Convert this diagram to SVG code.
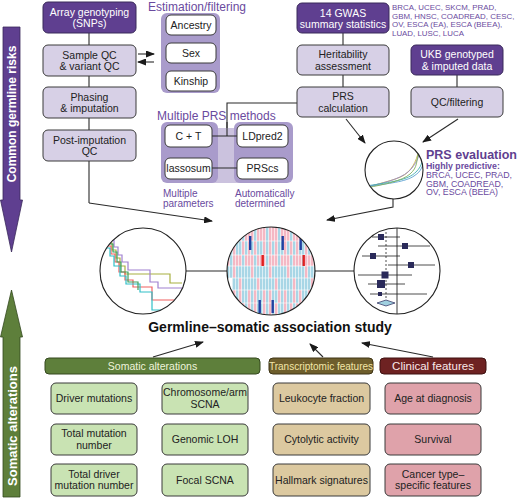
<svg xmlns="http://www.w3.org/2000/svg" width="520" height="498" viewBox="0 0 520 498">
<style>
text{font-family:"Liberation Sans",Arial,sans-serif;}
.t{font-size:10.5px;fill:#222;text-anchor:middle;}
.tw{font-size:10.5px;fill:#fff;text-anchor:middle;}
.dk{fill:#5f3f90;stroke:#3a2a5a;stroke-width:1;}
.lt{fill:#d7d0e6;stroke:#3a3a3a;stroke-width:1;}
.wb{fill:#fff;stroke:#3a3a3a;stroke-width:1;}
.pp{fill:#a99bcb;}
.pl{font-size:10px;fill:#6a4a9e;}
.ln{stroke:#2a2a2a;stroke-width:1.1;fill:none;}
.ar{stroke:#2a2a2a;stroke-width:1.1;fill:none;marker-end:url(#ah);}
.gb{fill:#c9e3b3;stroke:#3a3a3a;stroke-width:1;}
.tb{fill:#dcc9a0;stroke:#3a3a3a;stroke-width:1;}
.rb{fill:#dfa2aa;stroke:#3a3a3a;stroke-width:1;}
.fs{fill:#2a2a5a;}
.km{fill:none;stroke-width:1.2;}
</style>
<defs>
<marker id="ah" markerUnits="userSpaceOnUse" markerWidth="9" markerHeight="7" refX="8" refY="3.5" orient="auto">
<path d="M0,0 L9,3.5 L0,7 z" fill="#1a1a1a"/>
</marker>
<clipPath id="c1"><circle cx="143" cy="271" r="43"/></clipPath>
<clipPath id="c2"><circle cx="271" cy="271" r="44"/></clipPath>
<clipPath id="c3"><circle cx="397" cy="271" r="43"/></clipPath>
<clipPath id="c4"><circle cx="394" cy="170" r="29"/></clipPath>
<pattern id="pa" patternUnits="userSpaceOnUse" x="227" y="0" width="12" height="500">
<rect x="0" y="0" width="2.4" height="500" fill="#f4b8c4"/><rect x="3" y="0" width="2.4" height="500" fill="#a8d6e6"/><rect x="6" y="0" width="2.4" height="500" fill="#f4b8c4"/><rect x="9" y="0" width="2.4" height="500" fill="#f4b8c4"/>
</pattern>
<pattern id="pb" patternUnits="userSpaceOnUse" x="230" y="0" width="15" height="500">
<rect x="0" y="0" width="2.4" height="500" fill="#a8d6e6"/><rect x="3" y="0" width="2.4" height="500" fill="#f4b8c4"/><rect x="6" y="0" width="2.4" height="500" fill="#a8d6e6"/><rect x="9" y="0" width="2.4" height="500" fill="#f4b8c4"/><rect x="12" y="0" width="2.4" height="500" fill="#a8d6e6"/>
</pattern>
<pattern id="pc" patternUnits="userSpaceOnUse" x="227" y="0" width="18" height="500">
<rect x="0" y="0" width="2.4" height="500" fill="#a8d6e6"/><rect x="3" y="0" width="2.4" height="500" fill="#a8d6e6"/><rect x="6" y="0" width="2.4" height="500" fill="#f4b8c4"/><rect x="9" y="0" width="2.4" height="500" fill="#a8d6e6"/><rect x="12" y="0" width="2.4" height="500" fill="#a8d6e6"/><rect x="15" y="0" width="2.4" height="500" fill="#a8d6e6"/>
</pattern>
<pattern id="pd" patternUnits="userSpaceOnUse" x="233" y="0" width="21" height="500">
<rect x="0" y="0" width="2.4" height="500" fill="#f4b8c4"/><rect x="3" y="0" width="2.4" height="500" fill="#a8d6e6"/><rect x="6" y="0" width="2.4" height="500" fill="#a8d6e6"/><rect x="9" y="0" width="2.4" height="500" fill="#f4b8c4"/><rect x="12" y="0" width="2.4" height="500" fill="#a8d6e6"/><rect x="15" y="0" width="2.4" height="500" fill="#f4b8c4"/><rect x="18" y="0" width="2.4" height="500" fill="#a8d6e6"/>
</pattern>
</defs>

<g id="side-arrows">
<polygon points="3,27 20,27 20,200 22.5,200 11.5,252 0.5,200 3,200" fill="#5f3f90" stroke="#3a2a5a" stroke-width="0.8"/>
<text x="0" y="0" transform="translate(16,114) rotate(-90)" text-anchor="middle" font-size="12" font-weight="bold" fill="#fff">Common germline risks</text>
<polygon points="11.5,290 22.5,337 20,337 20,497 3,497 3,337 0.5,337" fill="#5e7f3b" stroke="#34491f" stroke-width="0.8"/>
<text x="0" y="0" transform="translate(16.5,426) rotate(-90)" text-anchor="middle" font-size="13" font-weight="bold" fill="#fff">Somatic alterations</text>
</g>

<g id="connectors">
<path class="ln" d="M89,33 V203"/>
<path class="ar" d="M89,203 L212,221"/>
<path class="ln" d="M191,35 V72"/>
<path class="ar" d="M138,54 H154"/>
<path class="ar" d="M154,62 H138"/>
<path class="ln" d="M343,33 V87"/>
<path class="ln" d="M457,75 V87"/>
<path class="ln" d="M297,103 H227 V136"/>
<path class="ln" d="M212,136 H237"/>
<path class="ln" d="M212,168 H237"/>
<path class="ln" d="M188.5,147 V158"/>
<path class="ln" d="M262.5,147 V158"/>
<path class="ar" d="M346,119 L365,143"/>
<path class="ar" d="M458,119 L423,142"/>
<path class="ar" d="M393,199 V207 L327,220"/>
<path class="ln" d="M186,271 H227"/>
<path class="ln" d="M315,271 H354"/>
<path class="ar" d="M153,357 L203,342"/>
<path class="ar" d="M323,357 L310,344"/>
<path class="ar" d="M433,357 L362,343"/>
</g>

<g id="array-genotyping"><rect class="dk" x="43" y="2" width="93" height="31" rx="5"/><text class="tw" x="89.5" y="15.5">Array genotyping</text><text class="tw" x="89.5" y="27">(SNPs)</text></g>
<g id="sample-qc"><rect class="lt" x="43" y="45" width="93" height="31" rx="5"/><text class="t" x="89.5" y="58.5">Sample QC</text><text class="t" x="89.5" y="70">&amp; variant QC</text></g>
<g id="phasing"><rect class="lt" x="43" y="87" width="93" height="31" rx="5"/><text class="t" x="89.5" y="100.5">Phasing</text><text class="t" x="89.5" y="112">&amp; imputation</text></g>
<g id="post-imputation"><rect class="lt" x="43" y="130" width="93" height="31" rx="5"/><text class="t" x="89.5" y="143.5">Post-imputation</text><text class="t" x="89.5" y="155">QC</text></g>

<g id="estimation">
<text x="148" y="11" font-size="12" fill="#6a4a9e">Estimation/filtering</text>
<rect class="pp" x="161" y="13" width="59" height="80" rx="6"/>
<g id="ancestry"><rect class="wb" x="166" y="15" width="50" height="20" rx="5"/><text class="t" x="191" y="28.5">Ancestry</text></g>
<g id="sex"><rect class="wb" x="166" y="43" width="50" height="20" rx="5"/><text class="t" x="191" y="56.5">Sex</text></g>
<g id="kinship"><rect class="wb" x="166" y="71" width="50" height="20" rx="5"/><text class="t" x="191" y="84.5">Kinship</text></g>
</g>

<g id="prs-methods">
<text x="157" y="119.5" font-size="12" fill="#6a4a9e">Multiple PRS methods</text>
<rect x="200" y="128" width="50" height="55" fill="#cbc2de"/>
<rect class="pp" x="161" y="122" width="57" height="61" rx="6"/>
<rect class="pp" x="234" y="122" width="59" height="61" rx="6"/>
<path class="ln" d="M212,136 H237 M212,168 H237 M227,122 V136"/>
<g id="c-t"><rect class="wb" x="165" y="125" width="47" height="22" rx="5"/><text class="t" x="188.5" y="139.5">C + T</text></g>
<g id="lassosum"><rect class="wb" x="165" y="158" width="47" height="21" rx="5"/><text class="t" x="188.5" y="172">lassosum</text></g>
<g id="ldpred2"><rect class="wb" x="237" y="125" width="51" height="22" rx="5"/><text class="t" x="262.5" y="139.5">LDpred2</text></g>
<g id="prscs"><rect class="wb" x="237" y="158" width="51" height="21" rx="5"/><text class="t" x="262.5" y="172">PRScs</text></g>
<text class="pl" x="163" y="196.5">Multiple</text><text class="pl" x="163" y="206.5">parameters</text>
<text class="pl" x="235" y="196.5">Automatically</text><text class="pl" x="235" y="206.5">determined</text>
</g>

<g id="gwas"><rect class="dk" x="297" y="3" width="92" height="30" rx="5"/><text class="tw" x="343" y="16.5">14 GWAS</text><text class="tw" x="343" y="28">summary statistics</text></g>
<g id="gwas-list" font-size="7.9" fill="#6a4a9e">
<text x="392" y="10">BRCA, UCEC, SKCM, PRAD,</text>
<text x="392" y="18.7">GBM, HNSC, COADREAD, CESC,</text>
<text x="392" y="27.4">OV, ESCA (EA), ESCA (BEEA),</text>
<text x="392" y="36.1">LUAD, LUSC, LUCA</text>
</g>
<g id="heritability"><rect class="lt" x="297" y="45" width="92" height="30" rx="5"/><text class="t" x="343" y="58">Heritability</text><text class="t" x="343" y="69.5">assessment</text></g>
<g id="prs-calc"><rect class="lt" x="297" y="87" width="92" height="30" rx="5"/><text class="t" x="343" y="100">PRS</text><text class="t" x="343" y="111.5">calculation</text></g>
<g id="ukb"><rect class="dk" x="411" y="45" width="92" height="30" rx="5"/><text class="tw" x="457" y="58">UKB genotyped</text><text class="tw" x="457" y="69.5">&amp; imputed data</text></g>
<g id="qc-filtering"><rect class="lt" x="411" y="87" width="92" height="30" rx="5"/><text class="t" x="457" y="106">QC/filtering</text></g>

<g id="prs-evaluation">
<circle cx="394" cy="170" r="29" fill="#fff"/>
<g clip-path="url(#c4)" fill="none" stroke-width="0.9">
<path d="M366,188 C385,181 400,180 408,172 S418,155 421,140" stroke="#c8b840"/>
<path d="M366,187 C388,182 404,178 412,168 S419,152 423,142" stroke="#9a88cc"/>
<path d="M366,186 C392,182 408,180 416,172 S421,160 424,150" stroke="#40b0b0"/>
<path d="M366,187 C390,183 405,182 414,176 S420,168 426,160" stroke="#5aa0d0"/>
<path d="M366,188 C386,184 402,181 410,174 S416,162 419,150" stroke="#80b060"/>
</g>
<circle cx="394" cy="170" r="29" fill="none" stroke="#222" stroke-width="1.1"/>
<text x="426" y="158.5" font-size="12.5" font-weight="bold" fill="#5f3f90">PRS evaluation</text>
<text x="426" y="168.5" font-size="8.8" font-weight="bold" fill="#6a4a9e">Highly predictive:</text>
<text x="426" y="178" font-size="8.8" fill="#6a4a9e">BRCA, UCEC, PRAD,</text>
<text x="426" y="186.5" font-size="8.8" fill="#6a4a9e">GBM, COADREAD,</text>
<text x="426" y="195" font-size="8.8" fill="#6a4a9e">OV, ESCA (BEEA)</text>
</g>

<g id="km-plot">
<circle cx="143" cy="271" r="43" fill="#fff"/>
<g clip-path="url(#c1)">
<path class="km" stroke="#a8b040" d="M108,243 H112 V250 H116 V258 H120 V266 H125 V274 H170 V283 H182"/>
<path class="km" stroke="#a080d0" d="M110,240 H114 V247 H118 V255 H122 V262 H128 V270 H150 V282 H158 V288 H182"/>
<path class="km" stroke="#f06060" d="M107,246 H111 V254 H115 V262 H119 V272 H125 V280 H133 V287 H152 V300 H174"/>
<path class="km" stroke="#30c0c8" d="M106,248 H110 V256 H114 V266 H120 V276 H126 V284 H140 V292 H152 V310 H162"/>
<path class="km" stroke="#40a060" d="M109,244 H113 V252 H117 V262 H121 V272 H128 V282 H138 V290"/>
</g>
<circle cx="143" cy="271" r="43" fill="none" stroke="#222" stroke-width="1.1"/>
</g>

<g id="heatmap">
<circle cx="271" cy="271" r="44" fill="#fff"/>
<g clip-path="url(#c2)">
<rect x="226" y="226" width="90" height="15" fill="url(#pa)"/>
<rect x="226" y="241" width="90" height="14" fill="url(#pd)"/>
<rect x="226" y="255" width="90" height="11" fill="url(#pa)"/>
<rect x="226" y="266" width="90" height="12" fill="url(#pc)"/>
<rect x="226" y="278" width="90" height="12" fill="url(#pc)" transform="translate(6,0)"/>
<rect x="220" y="290" width="96" height="13" fill="url(#pb)"/>
<rect x="226" y="303" width="90" height="13" fill="url(#pd)"/>
<path d="M226,241 H316 M226,255 H316 M226,266 H316 M226,278 H316 M226,290 H316 M226,303 H316" stroke="#fff" stroke-width="0.6"/>
<rect x="249" y="236" width="2.4" height="14" fill="#2040a0"/>
<rect x="281.5" y="236" width="2.4" height="14" fill="#2040a0"/>
<rect x="299.5" y="238" width="2.4" height="12" fill="#2040a0"/>
<rect x="261.5" y="255" width="2.4" height="11" fill="#e02020"/>
<rect x="302.5" y="255" width="2.4" height="11" fill="#e02020"/>
<rect x="258.5" y="300" width="2.4" height="13" fill="#2040a0"/>
<rect x="271.5" y="300" width="2.4" height="13" fill="#2040a0"/>
</g>
<circle cx="271" cy="271" r="44" fill="none" stroke="#222" stroke-width="1.1"/>
</g>

<g id="forest-plot">
<circle cx="397" cy="271" r="43" fill="#fff"/>
<g clip-path="url(#c3)">
<path d="M397,226 V316" stroke="#222" stroke-width="0.9"/>
<path d="M386,232 V300" stroke="#222" stroke-width="0.8" stroke-dasharray="2,2"/>
<path d="M372,237 H400 M378,246 H430 M362,256 H400 M388,265 H435 M358,275 H412 M368,284 H405 M370,294 H427" stroke="#222" stroke-width="0.8"/>
<rect class="fs" x="378" y="234" width="6" height="6"/>
<rect class="fs" x="402" y="243" width="6" height="6"/>
<rect class="fs" x="370" y="253" width="6" height="6"/>
<rect class="fs" x="408" y="262" width="6" height="6"/>
<rect class="fs" x="381.5" y="271.5" width="7" height="7"/>
<rect class="fs" x="377" y="280" width="8" height="8"/>
<rect class="fs" x="378" y="292" width="4" height="4"/>
<polygon points="377,303 386,300 395,303 386,306" fill="#a0d0e0" stroke="#2a2a5a" stroke-width="0.7"/>
</g>
<circle cx="397" cy="271" r="43" fill="none" stroke="#222" stroke-width="1.1"/>
</g>

<g id="study-title"><text x="270" y="332" text-anchor="middle" font-size="14" font-weight="bold" fill="#111">Germline–somatic association study</text></g>

<g id="somatic-header"><rect x="45" y="358" width="215" height="16" rx="4" fill="#5e7f3b" stroke="#34491f" stroke-width="1"/><text x="152.5" y="369.8" text-anchor="middle" font-size="10.5" fill="#eef4dc">Somatic alterations</text></g>
<g id="transcriptomic-header"><rect x="269" y="358" width="104" height="16" rx="4" fill="#6e5e2c" stroke="#3e3416" stroke-width="1"/><text x="321" y="369.6" text-anchor="middle" font-size="10" fill="#f2e6a8">Transcriptomic features</text></g>
<g id="clinical-header"><rect x="380" y="358" width="106" height="16" rx="4" fill="#6e2222" stroke="#3e1010" stroke-width="1"/><text x="433" y="370.2" text-anchor="middle" font-size="11.5" fill="#fbe8e8">Clinical features</text></g>

<g id="driver-mutations"><rect class="gb" x="51" y="383" width="86" height="31" rx="5"/><text class="t" x="94" y="402" font-size="10">Driver mutations</text></g>
<g id="total-mutation"><rect class="gb" x="51" y="424" width="86" height="31" rx="5"/><text class="t" x="94" y="437">Total mutation</text><text class="t" x="94" y="448.5">number</text></g>
<g id="total-driver"><rect class="gb" x="51" y="464" width="86" height="32" rx="5"/><text class="t" x="94" y="477.5">Total driver</text><text class="t" x="94" y="489">mutation number</text></g>
<g id="chromosome-scna"><rect class="gb" x="162" y="383" width="86" height="31" rx="5"/><text class="t" x="205" y="396">Chromosome/arm</text><text class="t" x="205" y="407.5">SCNA</text></g>
<g id="genomic-loh"><rect class="gb" x="162" y="424" width="86" height="31" rx="5"/><text class="t" x="205" y="443">Genomic LOH</text></g>
<g id="focal-scna"><rect class="gb" x="162" y="464" width="86" height="32" rx="5"/><text class="t" x="205" y="483.5">Focal SCNA</text></g>

<g id="leukocyte"><rect class="tb" x="273" y="383" width="97" height="31" rx="5"/><text class="t" x="321.5" y="402">Leukocyte fraction</text></g>
<g id="cytolytic"><rect class="tb" x="273" y="424" width="97" height="31" rx="5"/><text class="t" x="321.5" y="443">Cytolytic activity</text></g>
<g id="hallmark"><rect class="tb" x="273" y="464" width="97" height="32" rx="5"/><text class="t" x="321.5" y="483.5">Hallmark signatures</text></g>

<g id="age"><rect class="rb" x="385" y="383" width="96" height="31" rx="5"/><text class="t" x="433" y="402">Age at diagnosis</text></g>
<g id="survival"><rect class="rb" x="385" y="424" width="96" height="31" rx="5"/><text class="t" x="433" y="443">Survival</text></g>
<g id="cancer-type"><rect class="rb" x="385" y="464" width="96" height="32" rx="5"/><text class="t" x="433" y="477.5">Cancer type–</text><text class="t" x="433" y="489">specific features</text></g>
</svg>
